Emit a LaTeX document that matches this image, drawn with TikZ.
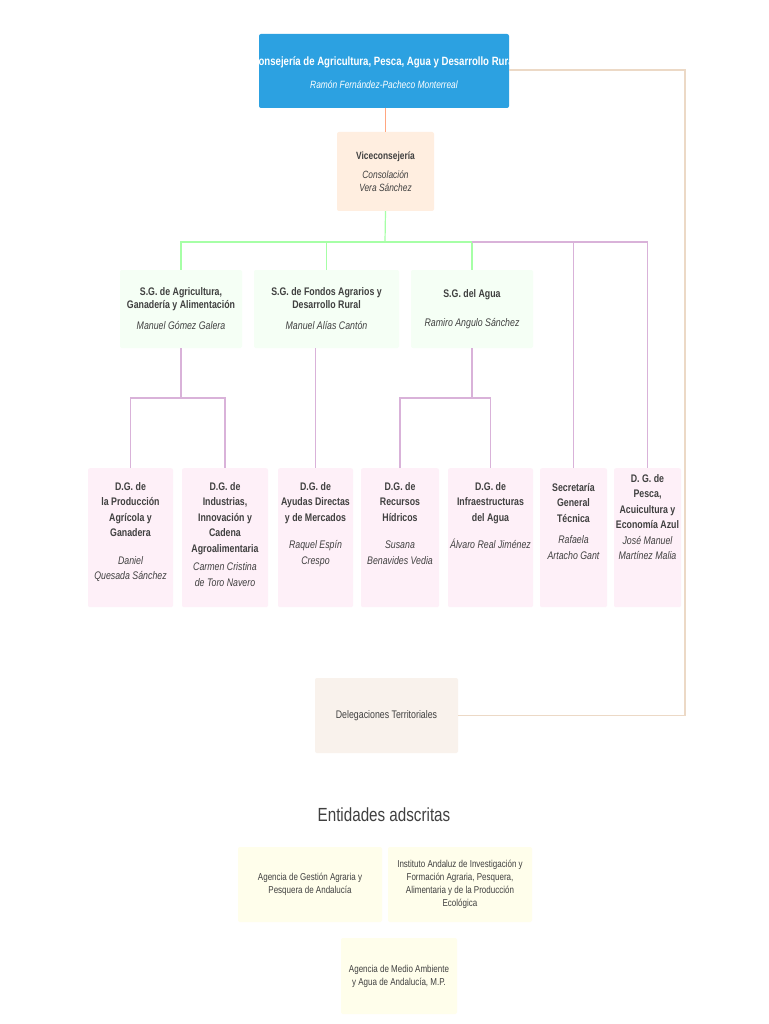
\documentclass[tikz,border=0pt]{standalone}
\usepackage{fontspec}
\setmainfont{Liberation Sans}
\newfontfamily\narrowf{Liberation Sans}[FakeStretch=0.8]
\begin{document}
\begin{tikzpicture}[x=1pt,y=-1pt,
 box/.style={draw=none,rounded corners=2pt,align=center,inner sep=2pt,font=\narrowf\fontsize{11}{13}\selectfont,text=black!75},
 sgf/.style={box,fill=green!4!white},
 dgf/.style={box,fill=magenta!6!white},
 enf/.style={box,fill=yellow!8!white,font=\narrowf\fontsize{10}{13}\selectfont},
 gl/.style={draw=green!35!white,line width=1.2pt},
 pl/.style={draw=violet!30!white,line width=1.2pt},
 bl/.style={draw=brown!30!white,line width=1.2pt}]
\useasboundingbox (0,0) rectangle (768,1024);
\fill[white] (0,0) rectangle (768,1024);
% boxes
\node[box,fill=cyan!80!blue!85!white,text=white,minimum width=250,minimum height=74] (top) at (384,71) {};
\node[font=\narrowf\fontsize{12}{14}\selectfont\bfseries,text=white] at (384,62) {Consejería de Agricultura, Pesca, Agua y Desarrollo Rural};
\node[font=\narrowf\fontsize{10.5}{12}\selectfont\itshape,text=white] at (384,85) {Ramón Fernández-Pacheco Monterreal};
\node[box,fill=red!10!orange!12!white,minimum width=97,minimum height=79,font=\narrowf\fontsize{10.5}{12.5}\selectfont] (vice) at (385.5,171.5) {\textbf{Viceconsejería}\\[7pt]\itshape Consolación\\\itshape Vera Sánchez};
\node[sgf,minimum width=122,minimum height=78] (sg1) at (181,309) {\textbf{S.G. de Agricultura,}\\\textbf{Ganadería y Alimentación}\\[8pt]\itshape Manuel Gómez Galera};
\node[sgf,minimum width=145,minimum height=78] (sg2) at (326.5,309) {\textbf{S.G. de Fondos Agrarios y}\\\textbf{Desarrollo Rural}\\[8pt]\itshape Manuel Alías Cantón};
\node[sgf,minimum width=122,minimum height=78] (sg3) at (472,309) {\textbf{S.G. del Agua}\\[16pt]\itshape Ramiro Angulo Sánchez};
\tikzset{dgpos/.style={dgf,minimum height=139,anchor=north,text depth=0pt}}
\node[dgpos,minimum width=85] (d1) at (130.5,468) {};
\node[dgpos,minimum width=86] (d2) at (225,468) {};
\node[dgpos,minimum width=75] (d3) at (315.5,468) {};
\node[dgpos,minimum width=78] (d4) at (400,468) {};
\node[dgpos,minimum width=85] (d5) at (490.5,468) {};
\node[dgpos,minimum width=67] (d6) at (573.5,468) {};
\node[dgpos,minimum width=67] (d7) at (647.5,468) {};
\tikzset{dgt/.style={box,anchor=north,inner sep=0pt,font=\narrowf\fontsize{11}{15.5}\selectfont}}
\node[dgt] at (d1.north) [yshift=-14] {\textbf{D.G. de}\\\textbf{la Producción}\\\textbf{Agrícola y}\\\textbf{Ganadera}\\[12pt]\itshape Daniel\\\itshape Quesada Sánchez};
\node[dgt] at (d2.north) [yshift=-14] {\textbf{D.G. de}\\\textbf{Industrias,}\\\textbf{Innovación y}\\\textbf{Cadena}\\\textbf{Agroalimentaria}\\[3pt]\itshape Carmen Cristina\\\itshape de Toro Navero};
\node[dgt] at (d3.north) [yshift=-14] {\textbf{D.G. de}\\\textbf{Ayudas Directas}\\\textbf{y de Mercados}\\[12pt]\itshape Raquel Espín\\\itshape Crespo};
\node[dgt] at (d4.north) [yshift=-14] {\textbf{D.G. de}\\\textbf{Recursos}\\\textbf{Hídricos}\\[12pt]\itshape Susana\\\itshape Benavides Vedia};
\node[dgt] at (d5.north) [yshift=-14] {\textbf{D.G. de}\\\textbf{Infraestructuras}\\\textbf{del Agua}\\[12pt]\itshape Álvaro Real Jiménez};
\node[dgt] at (d6.north) [yshift=-15] {\textbf{Secretaría}\\\textbf{General}\\\textbf{Técnica}\\[6pt]\itshape Rafaela\\\itshape Artacho Gant};
\node[dgt] at (d7.north) [yshift=-6] {\textbf{D. G. de}\\\textbf{Pesca,}\\\textbf{Acuicultura y}\\\textbf{Economía Azul}\\[0pt]\itshape José Manuel\\\itshape Martínez Malia};
\node[box,fill=brown!10!white,minimum width=143,minimum height=75] (del) at (386.5,715.5) {Delegaciones Territoriales};
\node[font=\narrowf\fontsize{19}{22}\selectfont,text=black!75] (ent) at (384,815) {Entidades adscritas};
\node[enf,minimum width=144,minimum height=75] (e1) at (310,884.5) {Agencia de Gestión Agraria y\\Pesquera de Andalucía};
\node[enf,minimum width=144,minimum height=75,inner sep=0pt] (e2) at (460,884.5) {Instituto Andaluz de Investigación y\\Formación Agraria, Pesquera,\\Alimentaria y de la Producción\\Ecológica};
\node[enf,minimum width=116,minimum height=76] (e3) at (399,976) {Agencia de Medio Ambiente\\ y Agua de Andalucía, M.P.};
% connectors
\draw[draw=orange!60!red!50!white,line width=1.2pt] (top.south -| vice.north) -- (vice.north);
\coordinate (hb) at (385,242);
\draw[gl] (vice.south) -- (hb);
\draw[gl] (sg1.north) |- (hb) -| (sg3.north);
\draw[gl] (sg2.north) -- (sg2.north |- hb);
\draw[pl] (sg3.north |- hb) -| (d7.north);
\draw[pl] (d6.north) -- (d6.north |- hb);
\coordinate (h1) at (181,398);
\draw[pl] (sg1.south) -- (h1);
\draw[pl] (d1.north) |- (h1) -| (d2.north);
\draw[pl] (sg2.south -| d3.north) -- (d3.north);
\coordinate (h3) at (472,398);
\draw[pl] (sg3.south) -- (h3);
\draw[pl] (d4.north) |- (h3) -| (d5.north);
\coordinate (rc) at (685,70);
\draw[bl] (top.east |- rc) -- (rc) |- (del.east);
\end{tikzpicture}
\end{document}
